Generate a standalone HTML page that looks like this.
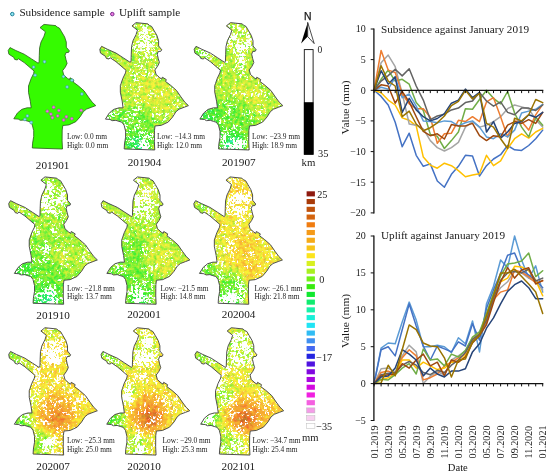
<!DOCTYPE html>
<html lang="en"><head><meta charset="utf-8"><title>Subsidence and uplift maps</title>
<style>html,body{margin:0;padding:0;background:#fff}svg{display:block}text{font-family:"Liberation Serif","Times New Roman",serif;fill:#1a1a1a}</style>
</head><body>
<svg width="550" height="476" viewBox="0 0 550 476">
<rect width="550" height="476" fill="#fff"/>
<defs>
<path id="shp" d="M40.0,27.6 L44.0,24.4 L55.7,25.6 L57.2,27.1 L59.4,28.1 L61.6,31.8 L64.6,36.9 L66.3,42.1 L66.3,47.2 L69.4,50.9 L68.5,52.4 L66.0,52.6 L65.0,55.3 L66.0,59.7 L67.1,63.4 L65.3,67.1 L62.6,70.7 L63.8,75.1 L67.5,78.4 L69.5,79.6 L70.0,77.8 L73.9,80.1 L73.2,82.0 L78.3,85.8 L84.0,90.8 L88.4,97.1 L92.2,102.2 L95.8,105.6 L91.6,107.2 L86.5,109.1 L83.4,111.6 L80.2,116.7 L75.8,121.7 L68.9,124.9 L62.8,125.5 L62.2,130.0 L62.1,140.9 L62.5,149.0 L32.3,148.0 L32.6,143.1 L33.7,136.5 L33.7,130.6 L32.2,124.7 L30.0,121.8 L27.1,121.0 L24.1,120.0 L20.4,120.3 L18.2,119.1 L13.8,118.8 L17.5,112.9 L21.9,109.3 L27.1,107.8 L31.2,107.8 L30.3,101.2 L28.5,92.4 L28.5,86.0 L29.2,84.1 L31.0,78.9 L33.6,73.6 L34.1,71.0 L24.2,62.6 L18.4,58.7 L17.3,60.0 L14.7,59.4 L13.7,57.3 L8.9,54.2 L8.2,50.5 L10.0,47.6 L15.8,50.5 L24.2,54.2 L31.5,58.9 L38.3,63.3 L39.1,61.9 L39.3,55.3 L39.6,47.9 L41.0,42.1 L44.0,36.2 L45.4,31.8Z"/>
<clipPath id="clp"><use href="#shp"/></clipPath>
<filter id="sp2" x="0" y="0" width="100%" height="100%" color-interpolation-filters="sRGB"><feTurbulence type="fractalNoise" baseFrequency="0.1" numOctaves="2" seed="17"/><feColorMatrix type="matrix" values="1 0 0 0 0  0 1 0 0 0  0 0 1 0 0  0 0 0 0 1" result="a"/><feTurbulence type="fractalNoise" baseFrequency="0.45" numOctaves="2" seed="25"/><feColorMatrix type="matrix" values="1 0 0 0 0  0 1 0 0 0  0 0 1 0 0  0 0 0 0 1" result="b"/><feComposite in="a" in2="b" operator="arithmetic" k1="0" k2="0.4" k3="0.6" k4="0" result="c"/><feColorMatrix in="SourceGraphic" type="matrix" values="0 0 0 1 0  0 0 0 0 0  0 0 0 0 0  0 0 0 0 1" result="d"/><feComposite in="c" in2="d" operator="arithmetic" k1="0" k2="1" k3="0.2" k4="0" result="e"/><feColorMatrix in="e" type="matrix" values="0 0 0 0 1  0 0 0 0 1  0 0 0 0 1  16 0 0 0 -9.36"/></filter>
<filter id="nz2" x="0" y="0" width="100%" height="100%" color-interpolation-filters="sRGB"><feTurbulence type="fractalNoise" baseFrequency="0.3" numOctaves="2" seed="11"/><feColorMatrix type="matrix" values="1 0 0 0 0  0 1 0 0 0  0 0 1 0 0  0 0 0 0 1" result="n"/><feComposite in="SourceGraphic" in2="n" operator="arithmetic" k1="0" k2="1" k3="0.2" k4="-0.1"/></filter>
<filter id="sp3" x="0" y="0" width="100%" height="100%" color-interpolation-filters="sRGB"><feTurbulence type="fractalNoise" baseFrequency="0.1" numOctaves="2" seed="24"/><feColorMatrix type="matrix" values="1 0 0 0 0  0 1 0 0 0  0 0 1 0 0  0 0 0 0 1" result="a"/><feTurbulence type="fractalNoise" baseFrequency="0.45" numOctaves="2" seed="32"/><feColorMatrix type="matrix" values="1 0 0 0 0  0 1 0 0 0  0 0 1 0 0  0 0 0 0 1" result="b"/><feComposite in="a" in2="b" operator="arithmetic" k1="0" k2="0.4" k3="0.6" k4="0" result="c"/><feColorMatrix in="SourceGraphic" type="matrix" values="0 0 0 1 0  0 0 0 0 0  0 0 0 0 0  0 0 0 0 1" result="d"/><feComposite in="c" in2="d" operator="arithmetic" k1="0" k2="1" k3="0.2" k4="0" result="e"/><feColorMatrix in="e" type="matrix" values="0 0 0 0 1  0 0 0 0 1  0 0 0 0 1  16 0 0 0 -9.36"/></filter>
<filter id="nz3" x="0" y="0" width="100%" height="100%" color-interpolation-filters="sRGB"><feTurbulence type="fractalNoise" baseFrequency="0.3" numOctaves="2" seed="16"/><feColorMatrix type="matrix" values="1 0 0 0 0  0 1 0 0 0  0 0 1 0 0  0 0 0 0 1" result="n"/><feComposite in="SourceGraphic" in2="n" operator="arithmetic" k1="0" k2="1" k3="0.2" k4="-0.1"/></filter>
<filter id="sp4" x="0" y="0" width="100%" height="100%" color-interpolation-filters="sRGB"><feTurbulence type="fractalNoise" baseFrequency="0.1" numOctaves="2" seed="31"/><feColorMatrix type="matrix" values="1 0 0 0 0  0 1 0 0 0  0 0 1 0 0  0 0 0 0 1" result="a"/><feTurbulence type="fractalNoise" baseFrequency="0.45" numOctaves="2" seed="39"/><feColorMatrix type="matrix" values="1 0 0 0 0  0 1 0 0 0  0 0 1 0 0  0 0 0 0 1" result="b"/><feComposite in="a" in2="b" operator="arithmetic" k1="0" k2="0.4" k3="0.6" k4="0" result="c"/><feColorMatrix in="SourceGraphic" type="matrix" values="0 0 0 1 0  0 0 0 0 0  0 0 0 0 0  0 0 0 0 1" result="d"/><feComposite in="c" in2="d" operator="arithmetic" k1="0" k2="1" k3="0.2" k4="0" result="e"/><feColorMatrix in="e" type="matrix" values="0 0 0 0 1  0 0 0 0 1  0 0 0 0 1  16 0 0 0 -9.36"/></filter>
<filter id="nz4" x="0" y="0" width="100%" height="100%" color-interpolation-filters="sRGB"><feTurbulence type="fractalNoise" baseFrequency="0.3" numOctaves="2" seed="21"/><feColorMatrix type="matrix" values="1 0 0 0 0  0 1 0 0 0  0 0 1 0 0  0 0 0 0 1" result="n"/><feComposite in="SourceGraphic" in2="n" operator="arithmetic" k1="0" k2="1" k3="0.2" k4="-0.1"/></filter>
<filter id="sp5" x="0" y="0" width="100%" height="100%" color-interpolation-filters="sRGB"><feTurbulence type="fractalNoise" baseFrequency="0.1" numOctaves="2" seed="38"/><feColorMatrix type="matrix" values="1 0 0 0 0  0 1 0 0 0  0 0 1 0 0  0 0 0 0 1" result="a"/><feTurbulence type="fractalNoise" baseFrequency="0.45" numOctaves="2" seed="46"/><feColorMatrix type="matrix" values="1 0 0 0 0  0 1 0 0 0  0 0 1 0 0  0 0 0 0 1" result="b"/><feComposite in="a" in2="b" operator="arithmetic" k1="0" k2="0.4" k3="0.6" k4="0" result="c"/><feColorMatrix in="SourceGraphic" type="matrix" values="0 0 0 1 0  0 0 0 0 0  0 0 0 0 0  0 0 0 0 1" result="d"/><feComposite in="c" in2="d" operator="arithmetic" k1="0" k2="1" k3="0.2" k4="0" result="e"/><feColorMatrix in="e" type="matrix" values="0 0 0 0 1  0 0 0 0 1  0 0 0 0 1  16 0 0 0 -9.36"/></filter>
<filter id="nz5" x="0" y="0" width="100%" height="100%" color-interpolation-filters="sRGB"><feTurbulence type="fractalNoise" baseFrequency="0.3" numOctaves="2" seed="26"/><feColorMatrix type="matrix" values="1 0 0 0 0  0 1 0 0 0  0 0 1 0 0  0 0 0 0 1" result="n"/><feComposite in="SourceGraphic" in2="n" operator="arithmetic" k1="0" k2="1" k3="0.2" k4="-0.1"/></filter>
<filter id="sp6" x="0" y="0" width="100%" height="100%" color-interpolation-filters="sRGB"><feTurbulence type="fractalNoise" baseFrequency="0.1" numOctaves="2" seed="45"/><feColorMatrix type="matrix" values="1 0 0 0 0  0 1 0 0 0  0 0 1 0 0  0 0 0 0 1" result="a"/><feTurbulence type="fractalNoise" baseFrequency="0.45" numOctaves="2" seed="53"/><feColorMatrix type="matrix" values="1 0 0 0 0  0 1 0 0 0  0 0 1 0 0  0 0 0 0 1" result="b"/><feComposite in="a" in2="b" operator="arithmetic" k1="0" k2="0.4" k3="0.6" k4="0" result="c"/><feColorMatrix in="SourceGraphic" type="matrix" values="0 0 0 1 0  0 0 0 0 0  0 0 0 0 0  0 0 0 0 1" result="d"/><feComposite in="c" in2="d" operator="arithmetic" k1="0" k2="1" k3="0.2" k4="0" result="e"/><feColorMatrix in="e" type="matrix" values="0 0 0 0 1  0 0 0 0 1  0 0 0 0 1  16 0 0 0 -9.20"/></filter>
<filter id="nz6" x="0" y="0" width="100%" height="100%" color-interpolation-filters="sRGB"><feTurbulence type="fractalNoise" baseFrequency="0.3" numOctaves="2" seed="31"/><feColorMatrix type="matrix" values="1 0 0 0 0  0 1 0 0 0  0 0 1 0 0  0 0 0 0 1" result="n"/><feComposite in="SourceGraphic" in2="n" operator="arithmetic" k1="0" k2="1" k3="0.2" k4="-0.1"/></filter>
<filter id="sp7" x="0" y="0" width="100%" height="100%" color-interpolation-filters="sRGB"><feTurbulence type="fractalNoise" baseFrequency="0.1" numOctaves="2" seed="52"/><feColorMatrix type="matrix" values="1 0 0 0 0  0 1 0 0 0  0 0 1 0 0  0 0 0 0 1" result="a"/><feTurbulence type="fractalNoise" baseFrequency="0.45" numOctaves="2" seed="60"/><feColorMatrix type="matrix" values="1 0 0 0 0  0 1 0 0 0  0 0 1 0 0  0 0 0 0 1" result="b"/><feComposite in="a" in2="b" operator="arithmetic" k1="0" k2="0.4" k3="0.6" k4="0" result="c"/><feColorMatrix in="SourceGraphic" type="matrix" values="0 0 0 1 0  0 0 0 0 0  0 0 0 0 0  0 0 0 0 1" result="d"/><feComposite in="c" in2="d" operator="arithmetic" k1="0" k2="1" k3="0.2" k4="0" result="e"/><feColorMatrix in="e" type="matrix" values="0 0 0 0 1  0 0 0 0 1  0 0 0 0 1  16 0 0 0 -9.04"/></filter>
<filter id="nz7" x="0" y="0" width="100%" height="100%" color-interpolation-filters="sRGB"><feTurbulence type="fractalNoise" baseFrequency="0.3" numOctaves="2" seed="36"/><feColorMatrix type="matrix" values="1 0 0 0 0  0 1 0 0 0  0 0 1 0 0  0 0 0 0 1" result="n"/><feComposite in="SourceGraphic" in2="n" operator="arithmetic" k1="0" k2="1" k3="0.2" k4="-0.1"/></filter>
<filter id="sp8" x="0" y="0" width="100%" height="100%" color-interpolation-filters="sRGB"><feTurbulence type="fractalNoise" baseFrequency="0.1" numOctaves="2" seed="59"/><feColorMatrix type="matrix" values="1 0 0 0 0  0 1 0 0 0  0 0 1 0 0  0 0 0 0 1" result="a"/><feTurbulence type="fractalNoise" baseFrequency="0.45" numOctaves="2" seed="67"/><feColorMatrix type="matrix" values="1 0 0 0 0  0 1 0 0 0  0 0 1 0 0  0 0 0 0 1" result="b"/><feComposite in="a" in2="b" operator="arithmetic" k1="0" k2="0.4" k3="0.6" k4="0" result="c"/><feColorMatrix in="SourceGraphic" type="matrix" values="0 0 0 1 0  0 0 0 0 0  0 0 0 0 0  0 0 0 0 1" result="d"/><feComposite in="c" in2="d" operator="arithmetic" k1="0" k2="1" k3="0.2" k4="0" result="e"/><feColorMatrix in="e" type="matrix" values="0 0 0 0 1  0 0 0 0 1  0 0 0 0 1  16 0 0 0 -9.04"/></filter>
<filter id="nz8" x="0" y="0" width="100%" height="100%" color-interpolation-filters="sRGB"><feTurbulence type="fractalNoise" baseFrequency="0.3" numOctaves="2" seed="41"/><feColorMatrix type="matrix" values="1 0 0 0 0  0 1 0 0 0  0 0 1 0 0  0 0 0 0 1" result="n"/><feComposite in="SourceGraphic" in2="n" operator="arithmetic" k1="0" k2="1" k3="0.2" k4="-0.1"/></filter>
<filter id="sp9" x="0" y="0" width="100%" height="100%" color-interpolation-filters="sRGB"><feTurbulence type="fractalNoise" baseFrequency="0.1" numOctaves="2" seed="66"/><feColorMatrix type="matrix" values="1 0 0 0 0  0 1 0 0 0  0 0 1 0 0  0 0 0 0 1" result="a"/><feTurbulence type="fractalNoise" baseFrequency="0.45" numOctaves="2" seed="74"/><feColorMatrix type="matrix" values="1 0 0 0 0  0 1 0 0 0  0 0 1 0 0  0 0 0 0 1" result="b"/><feComposite in="a" in2="b" operator="arithmetic" k1="0" k2="0.4" k3="0.6" k4="0" result="c"/><feColorMatrix in="SourceGraphic" type="matrix" values="0 0 0 1 0  0 0 0 0 0  0 0 0 0 0  0 0 0 0 1" result="d"/><feComposite in="c" in2="d" operator="arithmetic" k1="0" k2="1" k3="0.2" k4="0" result="e"/><feColorMatrix in="e" type="matrix" values="0 0 0 0 1  0 0 0 0 1  0 0 0 0 1  16 0 0 0 -9.04"/></filter>
<filter id="nz9" x="0" y="0" width="100%" height="100%" color-interpolation-filters="sRGB"><feTurbulence type="fractalNoise" baseFrequency="0.3" numOctaves="2" seed="46"/><feColorMatrix type="matrix" values="1 0 0 0 0  0 1 0 0 0  0 0 1 0 0  0 0 0 0 1" result="n"/><feComposite in="SourceGraphic" in2="n" operator="arithmetic" k1="0" k2="1" k3="0.2" k4="-0.1"/></filter>
<filter id="cmap" x="0" y="0" width="100%" height="100%" color-interpolation-filters="sRGB"><feComponentTransfer><feFuncR type="table" tableValues="1.000 0.973 0.957 0.957 0.941 0.831 0.659 0.502 0.314 0.141 0.267 0.251 0.188 0.125 0.094 0.094 0.063 0.063 0.220 0.439 0.659 0.847 0.988 0.973 0.961 0.961 0.941 0.831 0.753 0.659 0.557"/><feFuncG type="table" tableValues="1.000 0.816 0.612 0.376 0.125 0.031 0.031 0.031 0.078 0.141 0.408 0.565 0.737 0.894 0.941 0.941 0.925 0.910 0.918 0.941 0.941 0.941 0.894 0.769 0.667 0.604 0.486 0.392 0.322 0.227 0.102"/><feFuncB type="table" tableValues="1.000 0.941 0.910 0.878 0.878 0.878 0.878 0.878 0.878 0.878 0.941 0.941 0.957 0.957 0.847 0.659 0.439 0.188 0.063 0.094 0.125 0.125 0.110 0.094 0.094 0.094 0.063 0.055 0.047 0.031 0.063"/></feComponentTransfer></filter>
<filter id="soft" x="-5%" y="-5%" width="110%" height="110%"><feGaussianBlur stdDeviation="0.6"/></filter>
<filter id="bl" x="-50%" y="-50%" width="200%" height="200%"><feGaussianBlur stdDeviation="4"/></filter>
</defs>
<g id="map1">
<use href="#shp" fill="#35fb00" stroke="#2a5a1a" stroke-width="0.8" stroke-linejoin="round"/>
<circle cx="44.5" cy="61.8" r="1.45" fill="#86e4f2" stroke="#3a8a9c" stroke-width="0.55"/>
<circle cx="33.6" cy="67.1" r="1.45" fill="#86e4f2" stroke="#3a8a9c" stroke-width="0.55"/>
<circle cx="35.1" cy="75.3" r="1.45" fill="#86e4f2" stroke="#3a8a9c" stroke-width="0.55"/>
<circle cx="63.5" cy="76.6" r="1.45" fill="#86e4f2" stroke="#3a8a9c" stroke-width="0.55"/>
<circle cx="72" cy="80.3" r="1.45" fill="#86e4f2" stroke="#3a8a9c" stroke-width="0.55"/>
<circle cx="67.1" cy="87" r="1.45" fill="#86e4f2" stroke="#3a8a9c" stroke-width="0.55"/>
<circle cx="81.9" cy="94" r="1.45" fill="#86e4f2" stroke="#3a8a9c" stroke-width="0.55"/>
<circle cx="27.4" cy="115.9" r="1.45" fill="#86e4f2" stroke="#3a8a9c" stroke-width="0.55"/>
<circle cx="24.9" cy="119.4" r="1.45" fill="#86e4f2" stroke="#3a8a9c" stroke-width="0.55"/>
<circle cx="31.2" cy="122.5" r="1.45" fill="#86e4f2" stroke="#3a8a9c" stroke-width="0.55"/>
<circle cx="53.6" cy="107.3" r="1.45" fill="#f27ade" stroke="#94489a" stroke-width="0.55"/>
<circle cx="47.3" cy="111.3" r="1.45" fill="#f27ade" stroke="#94489a" stroke-width="0.55"/>
<circle cx="58.9" cy="110.5" r="1.45" fill="#f27ade" stroke="#94489a" stroke-width="0.55"/>
<circle cx="50.9" cy="114.1" r="1.45" fill="#f27ade" stroke="#94489a" stroke-width="0.55"/>
<circle cx="57.7" cy="115.9" r="1.45" fill="#f27ade" stroke="#94489a" stroke-width="0.55"/>
<circle cx="52.4" cy="117.7" r="1.45" fill="#f27ade" stroke="#94489a" stroke-width="0.55"/>
<circle cx="66.4" cy="116.8" r="1.45" fill="#f27ade" stroke="#94489a" stroke-width="0.55"/>
<circle cx="63.6" cy="120" r="1.45" fill="#f27ade" stroke="#94489a" stroke-width="0.55"/>
<circle cx="71.8" cy="118.7" r="1.45" fill="#f27ade" stroke="#94489a" stroke-width="0.55"/>
<circle cx="81.2" cy="110.4" r="1.45" fill="#f27ade" stroke="#94489a" stroke-width="0.55"/>
</g>
<g transform="translate(91.5,-2.3) scale(1.012,1.022)">
<g clip-path="url(#clp)"><g filter="url(#soft)">
<g filter="url(#cmap)"><g filter="url(#nz2)">
<rect x="5" y="20" width="95" height="133" fill="#acacac"/>
<g filter="url(#bl)">
<circle cx="62" cy="95" r="20" fill="#b3b3b3" opacity="0.9"/>
<circle cx="45" cy="128" r="22" fill="#9f9f9f" opacity="0.9"/>
<circle cx="20" cy="115" r="12" fill="#9c9c9c" opacity="0.9"/>
<circle cx="46" cy="147" r="12" fill="#8a8a8a" opacity="0.9"/>
<circle cx="18" cy="54" r="12" fill="#a5a5a5" opacity="0.7"/>
<circle cx="53" cy="42" r="16" fill="#adadad" opacity="0.7"/>
</g></g></g>
<rect x="5" y="20" width="95" height="133" fill="#fff" opacity="0.12"/>
<g filter="url(#sp2)"><rect x="5" y="20" width="95" height="133" fill="#000" fill-opacity="0.004"/><g filter="url(#bl)">
<circle cx="52" cy="47" r="15" fill="#000" opacity="0.7"/>
<circle cx="45" cy="31" r="7" fill="#000" opacity="0.6"/>
<circle cx="47" cy="143" r="13" fill="#000" opacity="0.7"/>
<circle cx="20" cy="115" r="10" fill="#000" opacity="0.5"/>
<circle cx="18" cy="55" r="9" fill="#000" opacity="0.4"/>
<circle cx="50" cy="72" r="8" fill="#000" opacity="0.3"/>
<circle cx="44" cy="118" r="9" fill="#000" opacity="0.25"/>
</g></g>
</g></g>
<use href="#shp" fill="none" stroke="#4a4a4a" stroke-width="0.95" stroke-linejoin="round"/>
</g>
<g transform="translate(185.9,-2.3) scale(1.012,1.022)">
<g clip-path="url(#clp)"><g filter="url(#soft)">
<g filter="url(#cmap)"><g filter="url(#nz3)">
<rect x="5" y="20" width="95" height="133" fill="#ababab"/>
<g filter="url(#bl)">
<circle cx="60" cy="100" r="17" fill="#b3b3b3" opacity="0.9"/>
<circle cx="45" cy="122" r="24" fill="#9f9f9f" opacity="0.9"/>
<circle cx="20" cy="115" r="12" fill="#949494" opacity="0.9"/>
<circle cx="46" cy="146" r="13" fill="#888888" opacity="0.9"/>
<circle cx="14" cy="52" r="9" fill="#9e9e9e" opacity="0.8"/>
<circle cx="53" cy="42" r="16" fill="#acacac" opacity="0.7"/>
</g></g></g>
<rect x="5" y="20" width="95" height="133" fill="#fff" opacity="0.12"/>
<g filter="url(#sp3)"><rect x="5" y="20" width="95" height="133" fill="#000" fill-opacity="0.004"/><g filter="url(#bl)">
<circle cx="52" cy="47" r="15" fill="#000" opacity="0.7"/>
<circle cx="45" cy="31" r="7" fill="#000" opacity="0.6"/>
<circle cx="47" cy="143" r="13" fill="#000" opacity="0.75"/>
<circle cx="20" cy="115" r="10" fill="#000" opacity="0.55"/>
<circle cx="18" cy="55" r="9" fill="#000" opacity="0.4"/>
<circle cx="50" cy="72" r="8" fill="#000" opacity="0.3"/>
<circle cx="42" cy="118" r="9" fill="#000" opacity="0.25"/>
</g></g>
</g></g>
<use href="#shp" fill="none" stroke="#4a4a4a" stroke-width="0.95" stroke-linejoin="round"/>
</g>
<g transform="translate(0.4,152.0) scale(1.012,1.022)">
<g clip-path="url(#clp)"><g filter="url(#soft)">
<g filter="url(#cmap)"><g filter="url(#nz4)">
<rect x="5" y="20" width="95" height="133" fill="#a8a8a8"/>
<g filter="url(#bl)">
<circle cx="58" cy="106" r="11" fill="#b3b3b3" opacity="0.9"/>
<circle cx="88" cy="104" r="10" fill="#b2b2b2" opacity="0.8"/>
<circle cx="45" cy="125" r="22" fill="#9f9f9f" opacity="0.9"/>
<circle cx="20" cy="115" r="12" fill="#949494" opacity="0.9"/>
<circle cx="46" cy="146" r="13" fill="#888888" opacity="0.9"/>
<circle cx="40" cy="92" r="14" fill="#a0a0a0" opacity="0.7"/>
</g></g></g>
<rect x="5" y="20" width="95" height="133" fill="#fff" opacity="0.12"/>
<g filter="url(#sp4)"><rect x="5" y="20" width="95" height="133" fill="#000" fill-opacity="0.004"/><g filter="url(#bl)">
<circle cx="52" cy="48" r="15" fill="#000" opacity="0.75"/>
<circle cx="45" cy="31" r="7" fill="#000" opacity="0.6"/>
<circle cx="47" cy="143" r="13" fill="#000" opacity="0.7"/>
<circle cx="20" cy="115" r="10" fill="#000" opacity="0.55"/>
<circle cx="18" cy="55" r="9" fill="#000" opacity="0.4"/>
<circle cx="50" cy="72" r="8" fill="#000" opacity="0.35"/>
<circle cx="35" cy="100" r="8" fill="#000" opacity="0.3"/>
</g></g>
</g></g>
<use href="#shp" fill="none" stroke="#4a4a4a" stroke-width="0.95" stroke-linejoin="round"/>
</g>
<g transform="translate(92.9,152.0) scale(1.012,1.022)">
<g clip-path="url(#clp)"><g filter="url(#soft)">
<g filter="url(#cmap)"><g filter="url(#nz5)">
<rect x="5" y="20" width="95" height="133" fill="#aaaaaa"/>
<g filter="url(#bl)">
<circle cx="70" cy="108" r="16" fill="#b3b3b3" opacity="0.9"/>
<circle cx="60" cy="92" r="12" fill="#b2b2b2" opacity="0.8"/>
<circle cx="40" cy="96" r="14" fill="#9d9d9d" opacity="0.85"/>
<circle cx="45" cy="130" r="20" fill="#9f9f9f" opacity="0.9"/>
<circle cx="20" cy="115" r="12" fill="#9c9c9c" opacity="0.9"/>
<circle cx="46" cy="147" r="10" fill="#8a8a8a" opacity="0.8"/>
<circle cx="55" cy="40" r="12" fill="#b2b2b2" opacity="0.7"/>
</g></g></g>
<rect x="5" y="20" width="95" height="133" fill="#fff" opacity="0.12"/>
<g filter="url(#sp5)"><rect x="5" y="20" width="95" height="133" fill="#000" fill-opacity="0.004"/><g filter="url(#bl)">
<circle cx="52" cy="48" r="15" fill="#000" opacity="0.7"/>
<circle cx="45" cy="31" r="7" fill="#000" opacity="0.6"/>
<circle cx="47" cy="143" r="13" fill="#000" opacity="0.7"/>
<circle cx="20" cy="115" r="10" fill="#000" opacity="0.5"/>
<circle cx="18" cy="55" r="9" fill="#000" opacity="0.4"/>
<circle cx="50" cy="72" r="8" fill="#000" opacity="0.3"/>
<circle cx="60" cy="125" r="7" fill="#000" opacity="0.25"/>
</g></g>
</g></g>
<use href="#shp" fill="none" stroke="#4a4a4a" stroke-width="0.95" stroke-linejoin="round"/>
</g>
<g transform="translate(185.5,152.0) scale(1.012,1.022)">
<g clip-path="url(#clp)"><g filter="url(#soft)">
<g filter="url(#cmap)"><g filter="url(#nz6)">
<rect x="5" y="20" width="95" height="133" fill="#b9b9b9"/>
<g filter="url(#bl)">
<circle cx="55" cy="40" r="13" fill="#c5c5c5" opacity="0.5"/>
<circle cx="58" cy="95" r="15" fill="#c7c7c7" opacity="0.55"/>
<circle cx="64" cy="116" r="10" fill="#cacaca" opacity="0.6"/>
<circle cx="20" cy="115" r="13" fill="#9d9d9d" opacity="0.95"/>
<circle cx="44" cy="134" r="18" fill="#9e9e9e" opacity="0.95"/>
<circle cx="46" cy="147" r="9" fill="#8c8c8c" opacity="0.8"/>
<circle cx="14" cy="52" r="9" fill="#9d9d9d" opacity="0.9"/>
<circle cx="26" cy="60" r="8" fill="#aaaaaa" opacity="0.8"/>
<circle cx="33" cy="92" r="9" fill="#acacac" opacity="0.8"/>
<circle cx="85" cy="104" r="8" fill="#b8b8b8" opacity="0.8"/>
</g></g></g>
<rect x="5" y="20" width="95" height="133" fill="#fff" opacity="0.12"/>
<g filter="url(#sp6)"><rect x="5" y="20" width="95" height="133" fill="#000" fill-opacity="0.004"/><g filter="url(#bl)">
<circle cx="52" cy="50" r="14" fill="#000" opacity="0.7"/>
<circle cx="45" cy="31" r="7" fill="#000" opacity="0.6"/>
<circle cx="47" cy="143" r="13" fill="#000" opacity="0.65"/>
<circle cx="20" cy="115" r="10" fill="#000" opacity="0.5"/>
<circle cx="18" cy="55" r="9" fill="#000" opacity="0.4"/>
<circle cx="50" cy="72" r="8" fill="#000" opacity="0.3"/>
<circle cx="40" cy="100" r="9" fill="#000" opacity="0.35"/>
</g></g>
</g></g>
<use href="#shp" fill="none" stroke="#4a4a4a" stroke-width="0.95" stroke-linejoin="round"/>
</g>
<g transform="translate(0.4,302.8) scale(1.012,1.022)">
<g clip-path="url(#clp)"><g filter="url(#soft)">
<g filter="url(#cmap)"><g filter="url(#nz7)">
<rect x="5" y="20" width="95" height="133" fill="#bcbcbc"/>
<g filter="url(#bl)">
<circle cx="55" cy="108" r="19" fill="#d3d3d3" opacity="0.85"/>
<circle cx="57" cy="113" r="8" fill="#e0e0e0" opacity="0.85"/>
<circle cx="55" cy="42" r="14" fill="#c0c0c0" opacity="0.6"/>
<circle cx="14" cy="52" r="9" fill="#9d9d9d" opacity="0.9"/>
<circle cx="26" cy="60" r="8" fill="#acacac" opacity="0.8"/>
<circle cx="20" cy="115" r="13" fill="#9d9d9d" opacity="0.95"/>
<circle cx="40" cy="138" r="13" fill="#a3a3a3" opacity="0.9"/>
<circle cx="52" cy="30" r="8" fill="#aaaaaa" opacity="0.8"/>
<circle cx="34" cy="95" r="9" fill="#adadad" opacity="0.8"/>
</g></g></g>
<rect x="5" y="20" width="95" height="133" fill="#fff" opacity="0.12"/>
<g filter="url(#sp7)"><rect x="5" y="20" width="95" height="133" fill="#000" fill-opacity="0.004"/><g filter="url(#bl)">
<circle cx="52" cy="48" r="15" fill="#000" opacity="0.7"/>
<circle cx="45" cy="31" r="7" fill="#000" opacity="0.6"/>
<circle cx="50" cy="143" r="12" fill="#000" opacity="0.6"/>
<circle cx="20" cy="115" r="10" fill="#000" opacity="0.5"/>
<circle cx="36" cy="92" r="11" fill="#000" opacity="0.4"/>
<circle cx="18" cy="55" r="9" fill="#000" opacity="0.45"/>
<circle cx="76" cy="98" r="10" fill="#000" opacity="0.3"/>
<circle cx="45" cy="70" r="10" fill="#000" opacity="0.3"/>
</g></g>
</g></g>
<use href="#shp" fill="none" stroke="#4a4a4a" stroke-width="0.95" stroke-linejoin="round"/>
</g>
<g transform="translate(92.8,302.8) scale(1.012,1.022)">
<g clip-path="url(#clp)"><g filter="url(#soft)">
<g filter="url(#cmap)"><g filter="url(#nz8)">
<rect x="5" y="20" width="95" height="133" fill="#bababa"/>
<g filter="url(#bl)">
<circle cx="55" cy="108" r="19" fill="#d6d6d6" opacity="0.85"/>
<circle cx="56" cy="113" r="9" fill="#ebebeb" opacity="0.9"/>
<circle cx="50" cy="45" r="16" fill="#acacac" opacity="0.7"/>
<circle cx="14" cy="52" r="9" fill="#9d9d9d" opacity="0.9"/>
<circle cx="26" cy="60" r="9" fill="#a6a6a6" opacity="0.8"/>
<circle cx="20" cy="115" r="13" fill="#9d9d9d" opacity="0.95"/>
<circle cx="42" cy="140" r="13" fill="#a7a7a7" opacity="0.9"/>
<circle cx="36" cy="90" r="10" fill="#a8a8a8" opacity="0.8"/>
</g></g></g>
<rect x="5" y="20" width="95" height="133" fill="#fff" opacity="0.12"/>
<g filter="url(#sp8)"><rect x="5" y="20" width="95" height="133" fill="#000" fill-opacity="0.004"/><g filter="url(#bl)">
<circle cx="52" cy="48" r="15" fill="#000" opacity="0.7"/>
<circle cx="45" cy="31" r="7" fill="#000" opacity="0.6"/>
<circle cx="50" cy="143" r="12" fill="#000" opacity="0.6"/>
<circle cx="20" cy="115" r="10" fill="#000" opacity="0.5"/>
<circle cx="36" cy="92" r="11" fill="#000" opacity="0.4"/>
<circle cx="18" cy="55" r="9" fill="#000" opacity="0.45"/>
<circle cx="76" cy="98" r="10" fill="#000" opacity="0.3"/>
<circle cx="45" cy="70" r="10" fill="#000" opacity="0.3"/>
</g></g>
</g></g>
<use href="#shp" fill="none" stroke="#4a4a4a" stroke-width="0.95" stroke-linejoin="round"/>
</g>
<g transform="translate(186.7,302.8) scale(1.012,1.022)">
<g clip-path="url(#clp)"><g filter="url(#soft)">
<g filter="url(#cmap)"><g filter="url(#nz9)">
<rect x="5" y="20" width="95" height="133" fill="#b8b8b8"/>
<g filter="url(#bl)">
<circle cx="58" cy="110" r="19" fill="#d6d6d6" opacity="0.85"/>
<circle cx="58" cy="114" r="9" fill="#ebebeb" opacity="0.9"/>
<circle cx="80" cy="106" r="10" fill="#d3d3d3" opacity="0.7"/>
<circle cx="50" cy="45" r="18" fill="#a7a7a7" opacity="0.8"/>
<circle cx="14" cy="52" r="9" fill="#9d9d9d" opacity="0.9"/>
<circle cx="26" cy="60" r="9" fill="#a5a5a5" opacity="0.8"/>
<circle cx="20" cy="115" r="13" fill="#9d9d9d" opacity="0.95"/>
<circle cx="42" cy="138" r="14" fill="#a6a6a6" opacity="0.9"/>
<circle cx="36" cy="90" r="11" fill="#a5a5a5" opacity="0.9"/>
</g></g></g>
<rect x="5" y="20" width="95" height="133" fill="#fff" opacity="0.12"/>
<g filter="url(#sp9)"><rect x="5" y="20" width="95" height="133" fill="#000" fill-opacity="0.004"/><g filter="url(#bl)">
<circle cx="52" cy="48" r="15" fill="#000" opacity="0.7"/>
<circle cx="45" cy="31" r="7" fill="#000" opacity="0.6"/>
<circle cx="50" cy="143" r="12" fill="#000" opacity="0.6"/>
<circle cx="20" cy="115" r="10" fill="#000" opacity="0.5"/>
<circle cx="36" cy="92" r="11" fill="#000" opacity="0.4"/>
<circle cx="18" cy="55" r="9" fill="#000" opacity="0.45"/>
<circle cx="76" cy="98" r="10" fill="#000" opacity="0.3"/>
<circle cx="45" cy="70" r="10" fill="#000" opacity="0.3"/>
</g></g>
</g></g>
<use href="#shp" fill="none" stroke="#4a4a4a" stroke-width="0.95" stroke-linejoin="round"/>
</g>
<circle cx="12.3" cy="14.1" r="1.75" fill="#8fe8f4" stroke="#1f7f98" stroke-width="1"/>
<text x="19.4" y="15.6" font-size="11.2">Subsidence sample</text>
<circle cx="112.3" cy="14.1" r="1.75" fill="#f07ce0" stroke="#7a2a90" stroke-width="1"/>
<text x="119" y="15.6" font-size="11.2">Uplift sample</text>
<text x="52.6" y="168.6" font-size="11.2" text-anchor="middle">201901</text>
<text x="144.5" y="165.6" font-size="11.2" text-anchor="middle">201904</text>
<text x="238.8" y="165.6" font-size="11.2" text-anchor="middle">201907</text>
<text x="53.1" y="319.2" font-size="11.2" text-anchor="middle">201910</text>
<text x="144" y="318.1" font-size="11.2" text-anchor="middle">202001</text>
<text x="238.6" y="318.1" font-size="11.2" text-anchor="middle">202004</text>
<text x="53.1" y="469.9" font-size="11.2" text-anchor="middle">202007</text>
<text x="144.1" y="469.9" font-size="11.2" text-anchor="middle">202010</text>
<text x="238.4" y="469.9" font-size="11.2" text-anchor="middle">202101</text>
<text x="66.9" y="139.1" font-size="7.4" fill="#333">Low: 0.0 mm</text>
<text x="66.9" y="147.79999999999998" font-size="7.4" fill="#333">High: 0.0 mm</text>
<text x="157" y="138.9" font-size="7.4" fill="#333">Low: −14.3 mm</text>
<text x="157" y="147.6" font-size="7.4" fill="#333">High: 12.0 mm</text>
<text x="252" y="138.9" font-size="7.4" fill="#333">Low: −23.9 mm</text>
<text x="252" y="147.6" font-size="7.4" fill="#333">High: 18.9 mm</text>
<text x="66.9" y="290.5" font-size="7.4" fill="#333">Low: −21.8 mm</text>
<text x="66.9" y="299.2" font-size="7.4" fill="#333">High: 13.7 mm</text>
<text x="160.5" y="290.5" font-size="7.4" fill="#333">Low: −21.5 mm</text>
<text x="160.5" y="299.2" font-size="7.4" fill="#333">High: 14.8 mm</text>
<text x="254.5" y="290.5" font-size="7.4" fill="#333">Low: −26.1 mm</text>
<text x="254.5" y="299.2" font-size="7.4" fill="#333">High: 21.8 mm</text>
<text x="66.9" y="443.2" font-size="7.4" fill="#333">Low: −25.3 mm</text>
<text x="66.9" y="451.9" font-size="7.4" fill="#333">High: 25.0 mm</text>
<text x="162.6" y="443.2" font-size="7.4" fill="#333">Low: −29.0 mm</text>
<text x="162.6" y="451.9" font-size="7.4" fill="#333">High: 25.3 mm</text>
<text x="252.6" y="443.2" font-size="7.4" fill="#333">Low: −34.7 mm</text>
<text x="252.6" y="451.9" font-size="7.4" fill="#333">High: 25.4 mm</text>
<text x="307.7" y="19.6" font-size="10.4" text-anchor="middle" style="font-family:'Liberation Sans',Arial,sans-serif" fill="#111" stroke="#111" stroke-width="0.25">N</text>
<path d="M307.7,22.4 L301.1,43.6 L307.7,36.6 Z" fill="#000"/>
<path d="M307.7,22.4 L314.2,43.6 L307.7,36.6 Z" fill="#fff" stroke="#000" stroke-width="0.7" stroke-linejoin="miter"/>
<rect x="304.3" y="49.6" width="8.8" height="104.7" fill="#fff" stroke="#111" stroke-width="0.9"/>
<rect x="303.9" y="102.2" width="9.6" height="52.4" fill="#000"/>
<text x="317.5" y="53.2" font-size="9.5">0</text>
<text x="318" y="156.6" font-size="10.4">35</text>
<text x="301.6" y="165.6" font-size="10.8">km</text>
<rect x="306.6" y="191.30" width="8.3" height="5.1" fill="#8e1a10" stroke="none" stroke-width="0.5"/>
<rect x="306.6" y="199.04" width="8.3" height="5.1" fill="#a83a08" stroke="none" stroke-width="0.5"/>
<rect x="306.6" y="206.77" width="8.3" height="5.1" fill="#c0520c" stroke="none" stroke-width="0.5"/>
<rect x="306.6" y="214.51" width="8.3" height="5.1" fill="#d4640e" stroke="none" stroke-width="0.5"/>
<rect x="306.6" y="222.24" width="8.3" height="5.1" fill="#f07c10" stroke="none" stroke-width="0.5"/>
<rect x="306.6" y="229.98" width="8.3" height="5.1" fill="#f59a18" stroke="none" stroke-width="0.5"/>
<rect x="306.6" y="237.71" width="8.3" height="5.1" fill="#f5aa18" stroke="none" stroke-width="0.5"/>
<rect x="306.6" y="245.45" width="8.3" height="5.1" fill="#f8c418" stroke="none" stroke-width="0.5"/>
<rect x="306.6" y="253.18" width="8.3" height="5.1" fill="#fce41c" stroke="none" stroke-width="0.5"/>
<rect x="306.6" y="260.92" width="8.3" height="5.1" fill="#d8f020" stroke="none" stroke-width="0.5"/>
<rect x="306.6" y="268.65" width="8.3" height="5.1" fill="#a8f020" stroke="none" stroke-width="0.5"/>
<rect x="306.6" y="276.38" width="8.3" height="5.1" fill="#70f018" stroke="none" stroke-width="0.5"/>
<rect x="306.6" y="284.12" width="8.3" height="5.1" fill="#38ea10" stroke="none" stroke-width="0.5"/>
<rect x="306.6" y="291.86" width="8.3" height="5.1" fill="#10e830" stroke="none" stroke-width="0.5"/>
<rect x="306.6" y="299.59" width="8.3" height="5.1" fill="#10ec70" stroke="none" stroke-width="0.5"/>
<rect x="306.6" y="307.33" width="8.3" height="5.1" fill="#18f0a8" stroke="none" stroke-width="0.5"/>
<rect x="306.6" y="315.06" width="8.3" height="5.1" fill="#18f0d8" stroke="none" stroke-width="0.5"/>
<rect x="306.6" y="322.80" width="8.3" height="5.1" fill="#20e4f4" stroke="none" stroke-width="0.5"/>
<rect x="306.6" y="330.53" width="8.3" height="5.1" fill="#30bcf4" stroke="none" stroke-width="0.5"/>
<rect x="306.6" y="338.26" width="8.3" height="5.1" fill="#4090f0" stroke="none" stroke-width="0.5"/>
<rect x="306.6" y="346.00" width="8.3" height="5.1" fill="#4468f0" stroke="none" stroke-width="0.5"/>
<rect x="306.6" y="353.74" width="8.3" height="5.1" fill="#2424e0" stroke="none" stroke-width="0.5"/>
<rect x="306.6" y="361.47" width="8.3" height="5.1" fill="#5014e0" stroke="none" stroke-width="0.5"/>
<rect x="306.6" y="369.21" width="8.3" height="5.1" fill="#8008e0" stroke="none" stroke-width="0.5"/>
<rect x="306.6" y="376.94" width="8.3" height="5.1" fill="#a808e0" stroke="none" stroke-width="0.5"/>
<rect x="306.6" y="384.68" width="8.3" height="5.1" fill="#d408e0" stroke="none" stroke-width="0.5"/>
<rect x="306.6" y="392.41" width="8.3" height="5.1" fill="#f020e0" stroke="none" stroke-width="0.5"/>
<rect x="306.6" y="400.14" width="8.3" height="5.1" fill="#f460e0" stroke="none" stroke-width="0.5"/>
<rect x="306.6" y="407.88" width="8.3" height="5.1" fill="#f49ce8" stroke="#bbb" stroke-width="0.5"/>
<rect x="306.6" y="415.62" width="8.3" height="5.1" fill="#f8d0f0" stroke="#bbb" stroke-width="0.5"/>
<rect x="306.6" y="423.35" width="8.3" height="5.1" fill="#ffffff" stroke="#bbb" stroke-width="0.5"/>
<text x="317.2" y="197.9" font-size="10.2">25</text>
<text x="319.3" y="282.6" font-size="10.2">0</text>
<text x="316.2" y="360.6" font-size="10.2">−17</text>
<text x="316.2" y="430" font-size="10.2">−35</text>
<text x="302" y="440.6" font-size="10.6">mm</text>
<g fill="none" stroke-width="1.5" stroke-linejoin="round" stroke-linecap="round">
<polyline points="374.1,90.3 381.1,96.4 388.2,105.0 395.2,122.2 402.2,146.7 409.2,133.2 416.2,155.3 423.3,166.3 430.3,163.9 437.3,181.0 444.4,187.2 451.4,174.3 458.4,166.3 465.4,155.3 472.5,155.9 479.5,176.1 486.5,165.7 493.5,159.0 500.6,154.7 507.6,145.5 514.6,149.8 521.6,150.4 528.7,145.5 535.7,138.7 542.7,130.1" stroke="#4472c4"/>
<polyline points="374.1,90.3 381.1,92.8 388.2,100.1 395.2,105.0 402.2,117.9 409.2,120.3 416.2,125.9 423.3,157.1 430.3,165.1 437.3,168.2 444.4,163.2 451.4,165.7 458.4,170.6 465.4,176.7 472.5,174.9 479.5,173.7 486.5,155.3 493.5,165.7 500.6,160.8 507.6,148.5 514.6,138.7 521.6,133.8 528.7,138.1 535.7,132.0 542.7,128.3" stroke="#ffc000"/>
<polyline points="374.1,90.3 381.1,62.7 388.2,55.1 395.2,66.7 402.2,93.4 409.2,124.0 416.2,125.2 423.3,128.9 430.3,140.6 437.3,147.6 444.4,151.0 451.4,147.6 458.4,142.4 465.4,127.1 472.5,121.6 479.5,127.1 486.5,125.2 493.5,121.6 500.6,116.7 507.6,108.7 514.6,105.0 521.6,106.9 528.7,108.7 535.7,119.7 542.7,127.1" stroke="#a5a5a5"/>
<polyline points="374.1,90.3 381.1,79.3 388.2,70.1 395.2,81.1 402.2,79.3 409.2,84.2 416.2,102.6 423.3,110.5 430.3,134.4 437.3,136.3 444.4,148.5 451.4,140.6 458.4,132.0 465.4,108.7 472.5,109.3 479.5,99.5 486.5,90.3 493.5,98.3 500.6,103.8 507.6,91.5 514.6,113.0 521.6,127.1 528.7,136.9 535.7,117.3 542.7,125.2" stroke="#70ad47"/>
<polyline points="374.1,90.3 381.1,50.5 388.2,70.1 395.2,72.5 402.2,94.0 409.2,103.8 416.2,108.7 423.3,108.7 430.3,117.3 437.3,143.3 444.4,133.8 451.4,133.2 458.4,120.3 465.4,121.6 472.5,116.7 479.5,121.6 486.5,101.9 493.5,97.7 500.6,116.7 507.6,136.9 514.6,120.9 521.6,121.6 528.7,130.1 535.7,114.8 542.7,104.4" stroke="#ed7d31"/>
<polyline points="374.1,90.3 381.1,87.2 388.2,89.1 395.2,77.4 402.2,97.7 409.2,94.0 416.2,106.2 423.3,120.9 430.3,121.6 437.3,122.8 444.4,120.9 451.4,121.6 458.4,125.9 465.4,122.8 472.5,120.9 479.5,127.1 486.5,136.9 493.5,138.7 500.6,133.8 507.6,136.9 514.6,130.1 521.6,113.0 528.7,111.1 535.7,109.3 542.7,104.4" stroke="#5b9bd5"/>
<polyline points="374.1,90.3 381.1,84.8 388.2,86.0 395.2,103.2 402.2,91.5 409.2,101.9 416.2,116.7 423.3,131.4 430.3,135.7 437.3,133.8 444.4,139.0 451.4,124.6 458.4,125.9 465.4,125.9 472.5,123.4 479.5,135.7 486.5,140.6 493.5,135.7 500.6,136.9 507.6,125.2 514.6,121.6 521.6,123.4 528.7,119.7 535.7,123.4 542.7,112.4" stroke="#9e480e"/>
<polyline points="374.1,90.3 381.1,81.1 388.2,75.6 395.2,69.2 402.2,75.9 409.2,68.8 416.2,86.0 423.3,100.1 430.3,119.7 437.3,116.0 444.4,114.2 451.4,109.9 458.4,108.1 465.4,102.6 472.5,101.0 479.5,92.4 486.5,101.0 493.5,106.2 500.6,101.9 507.6,112.4 514.6,114.8 521.6,108.1 528.7,108.1 535.7,110.5 542.7,105.0" stroke="#636363"/>
<polyline points="374.1,90.3 381.1,70.7 388.2,84.2 395.2,76.8 402.2,112.4 409.2,98.3 416.2,109.9 423.3,116.7 430.3,120.9 437.3,118.5 444.4,113.6 451.4,103.2 458.4,100.1 465.4,89.1 472.5,97.7 479.5,92.4 486.5,132.0 493.5,121.6 500.6,138.1 507.6,132.0 514.6,123.4 521.6,121.6 528.7,114.8 535.7,117.3 542.7,112.4" stroke="#264478"/>
<polyline points="374.1,90.3 381.1,65.8 388.2,81.1 395.2,86.0 402.2,116.7 409.2,111.1 416.2,124.0 423.3,130.8 430.3,127.7 437.3,122.8 444.4,116.0 451.4,105.6 458.4,101.3 465.4,90.3 472.5,98.9 479.5,93.4 486.5,123.4 493.5,127.1 500.6,138.7 507.6,148.5 514.6,118.2 521.6,120.9 528.7,114.8 535.7,99.5 542.7,102.6" stroke="#997300"/>
</g>
<g stroke="#111" stroke-width="1.3" fill="none">
<line x1="373.9" y1="28.4" x2="373.9" y2="213.5"/>
<line x1="373.3" y1="90.3" x2="543.3" y2="90.3"/>
</g>
<g stroke="#111" stroke-width="1">
<line x1="370.7" y1="29.0" x2="373.9" y2="29.0"/>
<text x="365.8" y="32.3" font-size="10" text-anchor="end" stroke="none">10</text>
<line x1="370.7" y1="59.6" x2="373.9" y2="59.6"/>
<text x="365.8" y="62.9" font-size="10" text-anchor="end" stroke="none">5</text>
<line x1="370.7" y1="90.3" x2="373.9" y2="90.3"/>
<text x="365.8" y="93.6" font-size="10" text-anchor="end" stroke="none">0</text>
<line x1="370.7" y1="120.9" x2="373.9" y2="120.9"/>
<text x="365.8" y="124.2" font-size="10" text-anchor="end" stroke="none">−5</text>
<line x1="370.7" y1="151.6" x2="373.9" y2="151.6"/>
<text x="365.8" y="154.9" font-size="10" text-anchor="end" stroke="none">−10</text>
<line x1="370.7" y1="182.2" x2="373.9" y2="182.2"/>
<text x="365.8" y="185.6" font-size="10" text-anchor="end" stroke="none">−15</text>
<line x1="370.7" y1="212.9" x2="373.9" y2="212.9"/>
<text x="365.8" y="216.2" font-size="10" text-anchor="end" stroke="none">−20</text>
<line x1="374.1" y1="90.3" x2="374.1" y2="93.1"/>
<line x1="381.1" y1="90.3" x2="381.1" y2="93.1"/>
<line x1="388.2" y1="90.3" x2="388.2" y2="93.1"/>
<line x1="395.2" y1="90.3" x2="395.2" y2="93.1"/>
<line x1="402.2" y1="90.3" x2="402.2" y2="93.1"/>
<line x1="409.2" y1="90.3" x2="409.2" y2="93.1"/>
<line x1="416.2" y1="90.3" x2="416.2" y2="93.1"/>
<line x1="423.3" y1="90.3" x2="423.3" y2="93.1"/>
<line x1="430.3" y1="90.3" x2="430.3" y2="93.1"/>
<line x1="437.3" y1="90.3" x2="437.3" y2="93.1"/>
<line x1="444.4" y1="90.3" x2="444.4" y2="93.1"/>
<line x1="451.4" y1="90.3" x2="451.4" y2="93.1"/>
<line x1="458.4" y1="90.3" x2="458.4" y2="93.1"/>
<line x1="465.4" y1="90.3" x2="465.4" y2="93.1"/>
<line x1="472.5" y1="90.3" x2="472.5" y2="93.1"/>
<line x1="479.5" y1="90.3" x2="479.5" y2="93.1"/>
<line x1="486.5" y1="90.3" x2="486.5" y2="93.1"/>
<line x1="493.5" y1="90.3" x2="493.5" y2="93.1"/>
<line x1="500.6" y1="90.3" x2="500.6" y2="93.1"/>
<line x1="507.6" y1="90.3" x2="507.6" y2="93.1"/>
<line x1="514.6" y1="90.3" x2="514.6" y2="93.1"/>
<line x1="521.6" y1="90.3" x2="521.6" y2="93.1"/>
<line x1="528.7" y1="90.3" x2="528.7" y2="93.1"/>
<line x1="535.7" y1="90.3" x2="535.7" y2="93.1"/>
<line x1="542.7" y1="90.3" x2="542.7" y2="93.1"/>
</g>
<text x="381" y="33.4" font-size="11.2">Subsidence against January 2019</text>
<text transform="translate(349.3,107.5) rotate(-90)" font-size="11.4" text-anchor="middle">Value (mm)</text>
<g fill="none" stroke-width="1.5" stroke-linejoin="round" stroke-linecap="round">
<polyline points="374.1,383.6 381.1,348.2 388.2,343.0 395.2,343.7 402.2,322.0 409.2,302.1 416.2,320.1 423.3,346.7 430.3,346.7 437.3,345.2 444.4,346.7 451.4,352.6 458.4,337.8 465.4,343.7 472.5,320.9 479.5,351.9 486.5,303.9 493.5,286.2 500.6,260.0 507.6,267.7 514.6,236.0 521.6,260.0 528.7,278.1 535.7,265.9 542.7,292.1" stroke="#5b9bd5"/>
<polyline points="374.1,383.6 381.1,349.7 388.2,346.7 395.2,355.9 402.2,329.7 409.2,303.9 416.2,326.0 423.3,346.0 430.3,360.0 437.3,346.0 444.4,348.9 451.4,351.9 458.4,341.9 465.4,346.0 472.5,323.8 479.5,340.1 486.5,308.3 493.5,289.9 500.6,273.6 507.6,255.2 514.6,253.0 521.6,269.9 528.7,275.1 535.7,280.3 542.7,287.7" stroke="#4472c4"/>
<polyline points="374.1,383.6 381.1,368.8 388.2,368.1 395.2,371.8 402.2,355.9 409.2,345.2 416.2,351.9 423.3,383.6 430.3,376.2 437.3,371.8 444.4,374.7 451.4,360.0 458.4,355.9 465.4,351.1 472.5,337.8 479.5,331.9 486.5,318.7 493.5,298.7 500.6,287.7 507.6,281.8 514.6,270.7 521.6,272.9 528.7,278.1 535.7,281.8 542.7,289.9" stroke="#a5a5a5"/>
<polyline points="374.1,383.6 381.1,372.5 388.2,371.1 395.2,374.0 402.2,357.8 409.2,349.7 416.2,355.9 423.3,379.9 430.3,377.7 437.3,374.0 444.4,365.9 451.4,362.2 458.4,357.8 465.4,354.1 472.5,340.8 479.5,334.9 486.5,322.3 493.5,299.5 500.6,292.1 507.6,289.9 514.6,269.9 521.6,272.2 528.7,276.6 535.7,282.9 542.7,281.0" stroke="#ed7d31"/>
<polyline points="374.1,383.6 381.1,379.9 388.2,377.7 395.2,374.0 402.2,360.0 409.2,360.0 416.2,368.1 423.3,362.2 430.3,365.9 437.3,369.6 444.4,368.1 451.4,362.2 458.4,362.2 465.4,355.6 472.5,339.3 479.5,333.4 486.5,317.2 493.5,295.0 500.6,281.8 507.6,278.1 514.6,266.3 521.6,267.0 528.7,270.7 535.7,280.3 542.7,295.8" stroke="#ffc000"/>
<polyline points="374.1,383.6 381.1,379.2 388.2,379.9 395.2,374.7 402.2,368.1 409.2,363.7 416.2,374.0 423.3,348.9 430.3,360.0 437.3,358.9 444.4,365.9 451.4,354.1 458.4,357.0 465.4,350.4 472.5,337.1 479.5,331.9 486.5,313.5 493.5,293.6 500.6,275.9 507.6,264.0 514.6,262.9 521.6,261.1 528.7,253.0 535.7,276.6 542.7,270.7" stroke="#70ad47"/>
<polyline points="374.1,383.6 381.1,374.7 388.2,373.3 395.2,372.5 402.2,365.2 409.2,361.5 416.2,365.2 423.3,372.5 430.3,374.7 437.3,370.3 444.4,372.5 451.4,365.2 458.4,360.0 465.4,352.6 472.5,339.3 479.5,334.2 486.5,320.1 493.5,298.0 500.6,280.3 507.6,272.9 514.6,271.4 521.6,272.9 528.7,269.2 535.7,281.0 542.7,278.1" stroke="#636363"/>
<polyline points="374.1,383.6 381.1,375.9 388.2,374.7 395.2,374.0 402.2,363.7 409.2,368.1 416.2,360.0 423.3,354.1 430.3,365.9 437.3,362.2 444.4,375.9 451.4,360.0 458.4,362.2 465.4,357.0 472.5,343.0 479.5,335.6 486.5,324.6 493.5,302.4 500.6,281.8 507.6,267.7 514.6,278.1 521.6,269.9 528.7,267.7 535.7,284.0 542.7,280.3" stroke="#9e480e"/>
<polyline points="374.1,383.6 381.1,377.0 388.2,375.9 395.2,368.1 402.2,349.7 409.2,354.1 416.2,360.0 423.3,375.9 430.3,368.1 437.3,374.0 444.4,377.0 451.4,371.1 458.4,371.1 465.4,368.8 472.5,351.9 479.5,343.7 486.5,328.2 493.5,317.9 500.6,303.9 507.6,291.4 514.6,284.7 521.6,281.0 528.7,287.7 535.7,298.7 542.7,298.7" stroke="#264478"/>
<polyline points="374.1,383.6 381.1,382.9 388.2,365.2 395.2,375.9 402.2,349.7 409.2,324.9 416.2,329.7 423.3,343.0 430.3,346.0 437.3,346.7 444.4,357.8 451.4,377.0 458.4,360.0 465.4,358.9 472.5,341.9 479.5,335.6 486.5,315.7 493.5,295.8 500.6,272.9 507.6,272.9 514.6,269.2 521.6,276.6 528.7,284.0 535.7,292.1 542.7,313.5" stroke="#997300"/>
</g>
<g stroke="#111" stroke-width="1.3" fill="none">
<line x1="373.9" y1="235.4" x2="373.9" y2="421.1"/>
<line x1="373.3" y1="383.6" x2="543.3" y2="383.6"/>
</g>
<g stroke="#111" stroke-width="1">
<line x1="370.7" y1="236.0" x2="373.9" y2="236.0"/>
<text x="365.8" y="239.3" font-size="10" text-anchor="end" stroke="none">20</text>
<line x1="370.7" y1="272.9" x2="373.9" y2="272.9"/>
<text x="365.8" y="276.2" font-size="10" text-anchor="end" stroke="none">15</text>
<line x1="370.7" y1="309.8" x2="373.9" y2="309.8"/>
<text x="365.8" y="313.1" font-size="10" text-anchor="end" stroke="none">10</text>
<line x1="370.7" y1="346.7" x2="373.9" y2="346.7"/>
<text x="365.8" y="350.0" font-size="10" text-anchor="end" stroke="none">5</text>
<line x1="370.7" y1="383.6" x2="373.9" y2="383.6"/>
<text x="365.8" y="386.9" font-size="10" text-anchor="end" stroke="none">0</text>
<line x1="370.7" y1="420.5" x2="373.9" y2="420.5"/>
<text x="365.8" y="423.8" font-size="10" text-anchor="end" stroke="none">−5</text>
<line x1="374.1" y1="383.6" x2="374.1" y2="386.4"/>
<line x1="381.1" y1="383.6" x2="381.1" y2="386.4"/>
<line x1="388.2" y1="383.6" x2="388.2" y2="386.4"/>
<line x1="395.2" y1="383.6" x2="395.2" y2="386.4"/>
<line x1="402.2" y1="383.6" x2="402.2" y2="386.4"/>
<line x1="409.2" y1="383.6" x2="409.2" y2="386.4"/>
<line x1="416.2" y1="383.6" x2="416.2" y2="386.4"/>
<line x1="423.3" y1="383.6" x2="423.3" y2="386.4"/>
<line x1="430.3" y1="383.6" x2="430.3" y2="386.4"/>
<line x1="437.3" y1="383.6" x2="437.3" y2="386.4"/>
<line x1="444.4" y1="383.6" x2="444.4" y2="386.4"/>
<line x1="451.4" y1="383.6" x2="451.4" y2="386.4"/>
<line x1="458.4" y1="383.6" x2="458.4" y2="386.4"/>
<line x1="465.4" y1="383.6" x2="465.4" y2="386.4"/>
<line x1="472.5" y1="383.6" x2="472.5" y2="386.4"/>
<line x1="479.5" y1="383.6" x2="479.5" y2="386.4"/>
<line x1="486.5" y1="383.6" x2="486.5" y2="386.4"/>
<line x1="493.5" y1="383.6" x2="493.5" y2="386.4"/>
<line x1="500.6" y1="383.6" x2="500.6" y2="386.4"/>
<line x1="507.6" y1="383.6" x2="507.6" y2="386.4"/>
<line x1="514.6" y1="383.6" x2="514.6" y2="386.4"/>
<line x1="521.6" y1="383.6" x2="521.6" y2="386.4"/>
<line x1="528.7" y1="383.6" x2="528.7" y2="386.4"/>
<line x1="535.7" y1="383.6" x2="535.7" y2="386.4"/>
<line x1="542.7" y1="383.6" x2="542.7" y2="386.4"/>
</g>
<text x="381" y="239.2" font-size="11.2">Uplift against January 2019</text>
<text transform="translate(349.3,321) rotate(-90)" font-size="11.4" text-anchor="middle">Value (mm)</text>
<text transform="translate(377.8,458.4) rotate(-90)" font-size="10.15">01.2019</text>
<text transform="translate(391.9,458.4) rotate(-90)" font-size="10.15">03.2019</text>
<text transform="translate(405.9,458.4) rotate(-90)" font-size="10.15">05.2019</text>
<text transform="translate(419.9,458.4) rotate(-90)" font-size="10.15">07.2019</text>
<text transform="translate(434.0,458.4) rotate(-90)" font-size="10.15">09.2019</text>
<text transform="translate(448.1,458.4) rotate(-90)" font-size="10.15">11.2019</text>
<text transform="translate(462.1,458.4) rotate(-90)" font-size="10.15">01.2020</text>
<text transform="translate(476.2,458.4) rotate(-90)" font-size="10.15">03.2020</text>
<text transform="translate(490.2,458.4) rotate(-90)" font-size="10.15">05.2020</text>
<text transform="translate(504.2,458.4) rotate(-90)" font-size="10.15">07.2020</text>
<text transform="translate(518.3,458.4) rotate(-90)" font-size="10.15">09.2020</text>
<text transform="translate(532.4,458.4) rotate(-90)" font-size="10.15">11.2020</text>
<text transform="translate(546.4,458.4) rotate(-90)" font-size="10.15">01.2021</text>
<text x="457.8" y="471" font-size="10.6" text-anchor="middle">Date</text>
</svg>
</body></html>
